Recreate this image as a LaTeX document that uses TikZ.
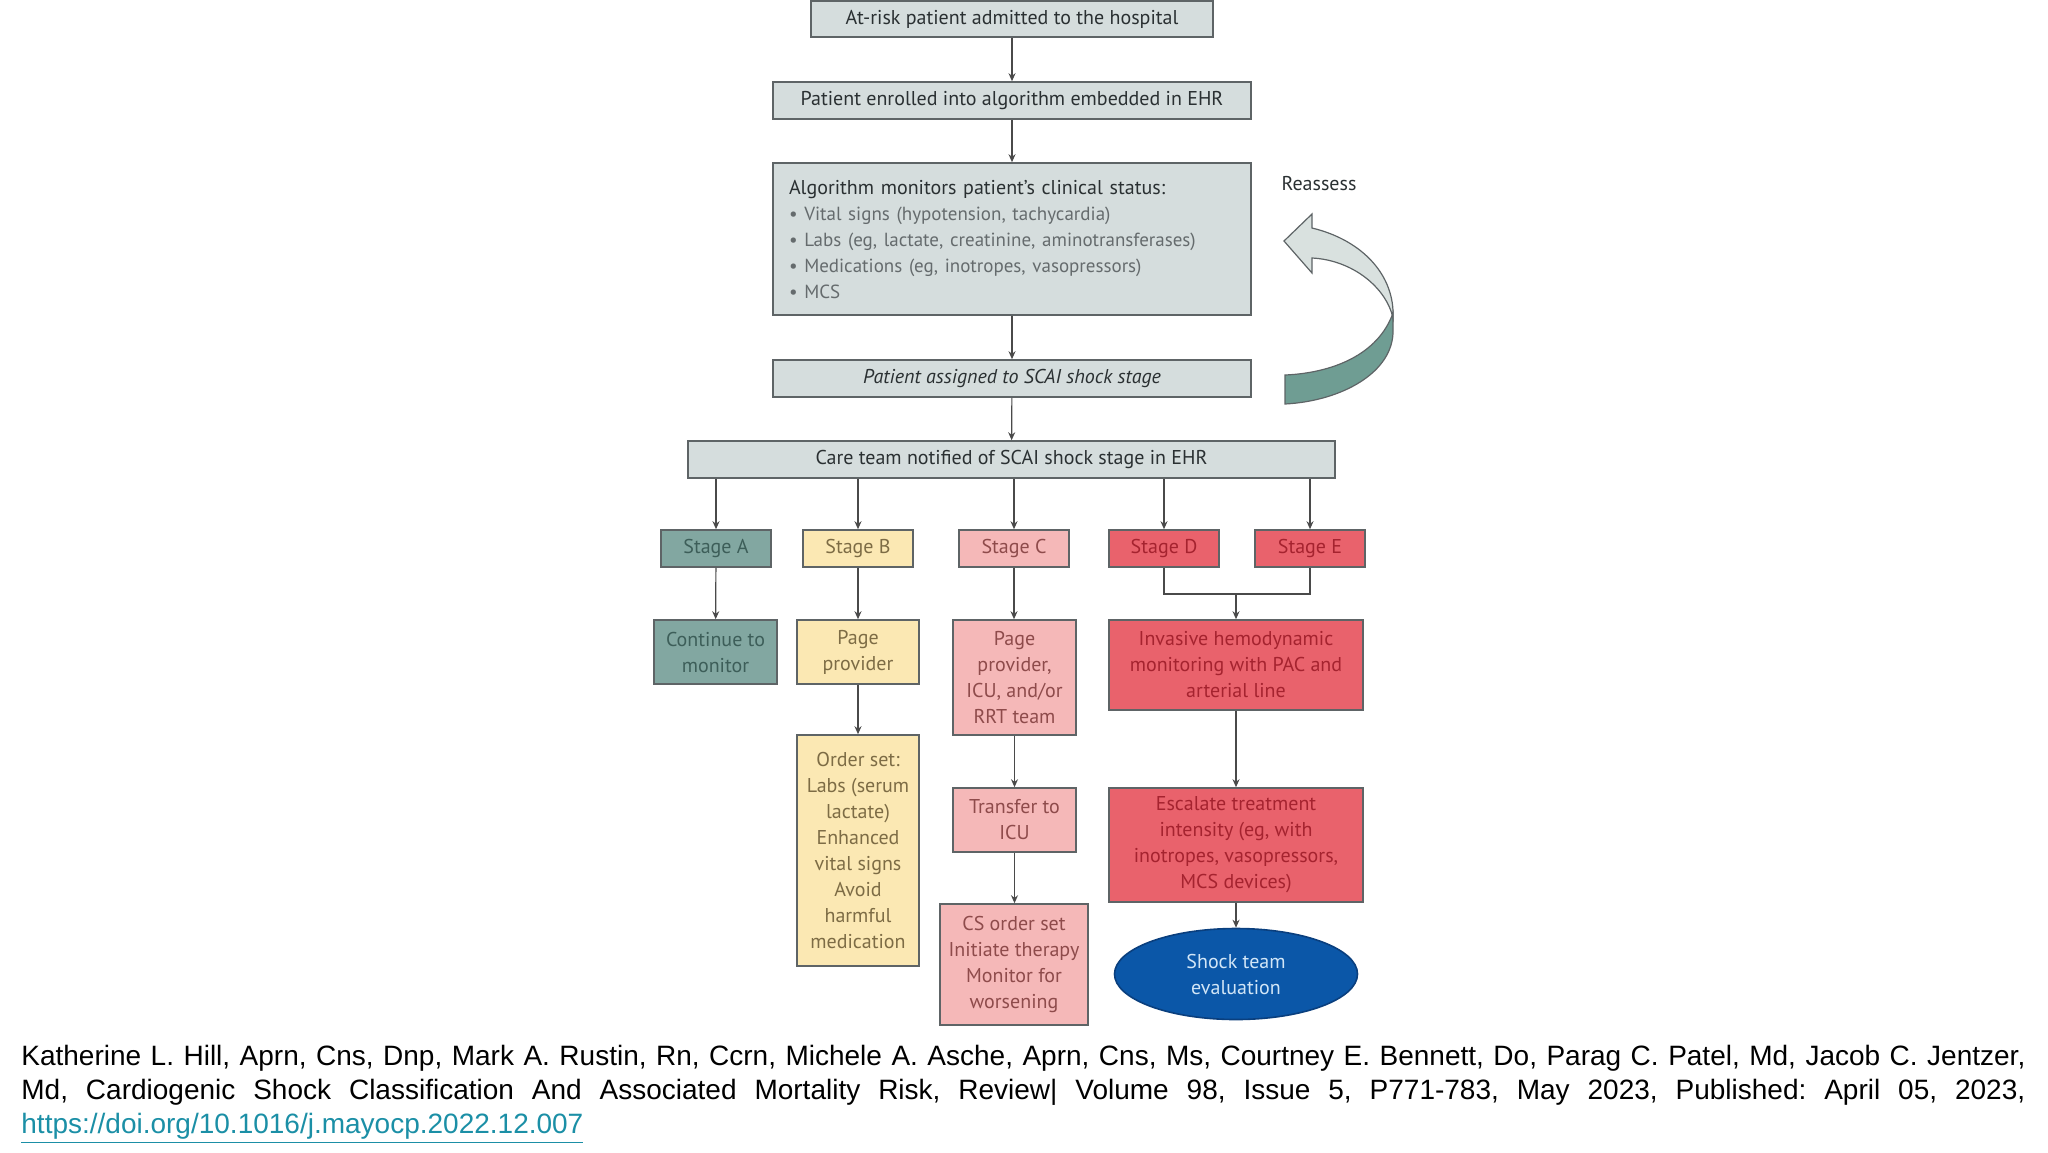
\documentclass[tikz,border=0pt]{standalone}
\usepackage{fontspec}
\setmainfont{PT Sans}
\newfontfamily\citefont{Liberation Sans}
\usetikzlibrary{arrows.meta,shapes.geometric}

\definecolor{boxline}{HTML}{5E6466}
\definecolor{linegray}{HTML}{4A4A4A}
\definecolor{topfill}{HTML}{D5DDDD}
\definecolor{textdark}{HTML}{2A3032}
\definecolor{textlight}{HTML}{656B6D}
\definecolor{afill}{HTML}{82A7A1}
\definecolor{atext}{HTML}{3D5E59}
\definecolor{bfill}{HTML}{FBE8B3}
\definecolor{btext}{HTML}{7D6C45}
\definecolor{cfill}{HTML}{F5B8B8}
\definecolor{ctext}{HTML}{8E4B4B}
\definecolor{dfill}{HTML}{E9626C}
\definecolor{dtext}{HTML}{A5232F}
\definecolor{shockfill}{HTML}{0B57A8}
\definecolor{shockline}{HTML}{0A3F7E}
\definecolor{shocktext}{HTML}{D2E6F7}
\definecolor{arrowtop}{HTML}{D9E1DF}
\definecolor{arrowbot}{HTML}{6F9D93}
\definecolor{linkteal}{HTML}{1B8FA6}

\begin{document}
\begin{tikzpicture}[x=0.5pt,y=-0.5pt,
    box/.style={draw=boxline, line width=0.8pt, fill=topfill, text=textdark, inner sep=0pt, align=center, font=\fontsize{10}{13}\selectfont},
    stagebox/.style={box, minimum width=55pt, minimum height=18.5pt},
    arr/.style={draw=linegray, line width=0.6pt, -{Stealth[length=4pt,width=3.5pt]}},
    link/.style={draw=linegray, line width=0.6pt}]
    \useasboundingbox (0,0) rectangle (2048,1152);

    % upper chain
    \node[box, minimum width=201pt, minimum height=18pt] (admit) at (1012,19) {At-risk patient admitted to the hospital};
    \node[box, minimum width=239pt, minimum height=18.5pt] (enrol) at (1012,100.5) {Patient enrolled into algorithm embedded in EHR};
    \node[box, minimum width=239pt, minimum height=76pt, align=left, text width=223pt, inner xsep=8pt] (monitor) at (1012,239)
        {Algorithm monitors patient’s clinical status:\\
        {\fontsize{9.5}{13}\selectfont\color{textlight}\textbullet\ Vital signs (hypotension, tachycardia)}\\
        {\fontsize{9.5}{13}\selectfont\color{textlight}\textbullet\ Labs (eg, lactate, creatinine, aminotransferases)}\\
        {\fontsize{9.5}{13}\selectfont\color{textlight}\textbullet\ Medications (eg, inotropes, vasopressors)}\\
        {\fontsize{9.5}{13}\selectfont\color{textlight}\textbullet\ MCS}};
    \node[box, minimum width=239pt, minimum height=18.5pt, font=\fontsize{10}{13}\selectfont\itshape] (assign) at (1012,378.5) {Patient assigned to SCAI shock stage};
    \node[box, minimum width=323.5pt, minimum height=18.5pt] (notify) at (1011.5,459.5) {Care team notified of SCAI shock stage in EHR};

    \draw[arr] (admit) -- (enrol);
    \draw[arr] (enrol) -- (monitor);
    \draw[arr] (monitor) -- (assign);
    \draw[arr] (assign) -- (notify);

    % reassess loop
    \node[text=textdark, font=\fontsize{10}{13}\selectfont] (reassess) at (1319,184) {Reassess};
    \fill[arrowbot, draw=boxline, line width=0.6pt] (1393,313) .. controls (1378,355) and (1332,373) .. (1285,375)
        -- (1285,404) .. controls (1342,401) and (1394,372) .. (1393,330) -- cycle;
    \fill[arrowtop, draw=boxline, line width=0.6pt] (1312,228) .. controls (1362,240) and (1395,275) .. (1393,318)
        .. controls (1386,287) and (1352,260) .. (1312,258) -- (1312,273) -- (1284,241) -- (1312,214) -- cycle;

    % stages
    \node[stagebox, fill=afill, text=atext] (stA) at (716,548.5) {Stage A};
    \node[stagebox, fill=bfill, text=btext] (stB) at (858,548.5) {Stage B};
    \node[stagebox, fill=cfill, text=ctext] (stC) at (1014,548.5) {Stage C};
    \node[stagebox, fill=dfill, text=dtext] (stD) at (1164,548.5) {Stage D};
    \node[stagebox, fill=dfill, text=dtext] (stE) at (1310,548.5) {Stage E};

    \foreach \s in {stA,stB,stC,stD,stE}
        \draw[arr] (notify.south -| \s.north) -- (\s.north);

    % stage A
    \node[box, fill=afill, text=atext, minimum width=61.5pt, minimum height=32pt] (cont) at (715.5,652) {Continue to\\monitor};
    \draw[arr] (stA) -- (cont);

    % stage B
    \node[box, fill=bfill, text=btext, minimum width=61pt, minimum height=32pt] (pageB) at (858,652) {Page\\provider};
    \node[box, fill=bfill, text=btext, minimum width=61pt, minimum height=115.5pt] (orderB) at (858,850.5)
        {Order set:\\Labs (serum\\lactate)\\Enhanced\\vital signs\\Avoid\\harmful\\medication};
    \draw[arr] (stB) -- (pageB);
    \draw[arr] (pageB) -- (orderB);

    % stage C
    \node[box, fill=cfill, text=ctext, minimum width=61.5pt, minimum height=57.5pt] (pageC) at (1014.5,677.5) {Page\\provider,\\ICU, and/or\\RRT team};
    \node[box, fill=cfill, text=ctext, minimum width=61.5pt, minimum height=32pt] (icu) at (1014.5,820) {Transfer to\\ICU};
    \node[box, fill=cfill, text=ctext, minimum width=74pt, minimum height=60.5pt] (csset) at (1014,964.5)
        {CS order set\\Initiate therapy\\Monitor for\\worsening};
    \draw[arr] (stC) -- (pageC.north -| stC.south);
    \draw[arr] (pageC) -- (icu);
    \draw[arr] (icu) -- (csset.north -| icu.south);

    % stages D and E
    \node[box, fill=dfill, text=dtext, minimum width=127pt, minimum height=45pt] (invasive) at (1236,665)
        {Invasive hemodynamic\\monitoring with PAC and\\arterial line};
    \node[box, fill=dfill, text=dtext, minimum width=127pt, minimum height=57pt] (escalate) at (1236,845)
        {Escalate treatment\\intensity (eg, with\\inotropes, vasopressors,\\MCS devices)};
    \node[ellipse, draw=shockline, line width=0.8pt, fill=shockfill, text=shocktext, inner sep=0pt, align=center,
        minimum width=121.5pt, minimum height=45.5pt, font=\fontsize{10}{13}\selectfont] (shock) at (1236,974) {Shock team\\evaluation};
    \coordinate (join) at (1236,594);
    \draw[link] (stD.south) |- (join) -| (stE.south);
    \draw[arr] (join) -- (invasive);
    \draw[arr] (invasive) -- (escalate);
    \draw[arr] (escalate) -- (shock);

    % citation
    \node[anchor=north west, inner sep=0pt, align=left, font=\citefont\fontsize{14}{17}\selectfont\frenchspacing] (cite) at (21,1045)
        {\makebox[1002pt][s]{Katherine L. Hill, Aprn, Cns, Dnp, Mark A. Rustin, Rn, Ccrn, Michele A. Asche, Aprn, Cns, Ms, Courtney E. Bennett, Do, Parag C. Patel, Md, Jacob C. Jentzer,}\\
        \makebox[1002pt][s]{Md, Cardiogenic Shock Classification And Associated Mortality Risk, Review| Volume 98, Issue 5, P771-783, May 2023, Published: April 05, 2023,}\\
        \textcolor{linkteal}{\underline{https://doi.org/10.1016/j.mayocp.2022.12.007}}};
\end{tikzpicture}
\end{document}
